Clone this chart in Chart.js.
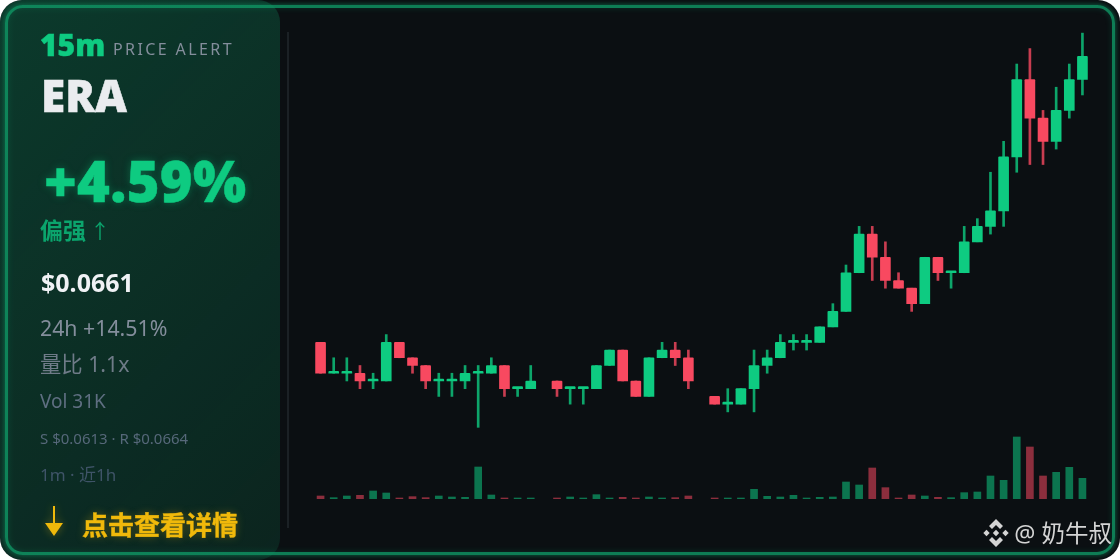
<!DOCTYPE html>
<html lang="zh">
<head>
<meta charset="utf-8">
<title>ERA 15m</title>
<script src="https://cdn.jsdelivr.net/npm/chart.js@4"></script>
<style>
    html, body { margin: 0; padding: 0; background: #fff; }
    #card {
        position: relative; width: 1120px; height: 560px; overflow: hidden;
        background: #0b0f12; border-radius: 22px;
        font-family: "Noto Sans", "Noto Sans CJK SC", sans-serif;
    }
    #frame {
        position: absolute; left: 5px; top: 5px; right: 5px; bottom: 5px;
        border: 3px solid #0e7d55; border-radius: 18px; box-sizing: border-box;
        box-shadow: 0 0 4px 1px rgba(14, 150, 100, .5), inset 0 0 6px rgba(16, 185, 129, .2);
    }
    #panel {
        position: absolute; left: 0; top: 0; width: 280px; height: 560px;
        border-radius: 22px;
        background: linear-gradient(135deg, rgba(14, 150, 100, .32), rgba(14, 150, 100, .16));
    }
    #divider { position: absolute; left: 287px; top: 32px; width: 2px; height: 496px; background: #1b2125; }
    #wrap { position: absolute; left: 313.5px; top: 24.5px; width: 775px; height: 474px; }
    .t { position: absolute; white-space: nowrap; line-height: 1; }
    #tf { left: 40px; top: 30px; font-size: 30px; font-weight: 900; color: #0ecb81; -webkit-text-stroke: .5px #0ecb81; }
    #alert { left: 113px; top: 41px; font-size: 16px; letter-spacing: 2.4px; color: #848e9c; }
    #sym { left: 41px; top: 73px; font-size: 44px; font-weight: 900; color: #eaecef; -webkit-text-stroke: .5px #eaecef; }
    #chg { left: 44px; top: 152px; font-size: 56px; font-weight: 900; color: #0ecb81; letter-spacing: .3px; -webkit-text-stroke: .5px #0ecb81; text-shadow: 0 0 8px rgba(14, 203, 129, .35); }
    #bias { left: 40px; top: 219px; font-size: 23px; font-weight: 700; color: #0ba56d; word-spacing: -2px; }
    #bias span { font-size: 20px; font-weight: 400; }
    #price { left: 41px; top: 270px; font-size: 25px; font-weight: 700; color: #f0f2f5; }
    #d24 { left: 40px; top: 317px; font-size: 21.3px; color: #848e9c; }
    #ratio { left: 40px; top: 353px; font-size: 21.3px; color: #6f7b88; }
    #vol { left: 40px; top: 392px; font-size: 19px; color: #5f6f82; }
    #sr { left: 40px; top: 431px; font-size: 15px; color: #56687a; }
    #span { left: 40px; top: 466px; font-size: 17px; color: #3f5468; }
    #cta { left: 82px; top: 512px; font-size: 26px; font-weight: 700; color: #f0b90b; -webkit-text-stroke: .4px #f0b90b; text-shadow: 0 0 8px rgba(240, 185, 11, .35); }
    #arrow { position: absolute; left: 44px; top: 505px; filter: drop-shadow(0 0 4px rgba(240, 185, 11, .35)); }
    #mark { right: 8px; top: 522px; font-size: 23.5px; color: #d4d4d4; }
    #logo { position: absolute; left: 982px; top: 519px; }
</style>
</head>
<body>
<div id="card">
    <div id="wrap"><canvas id="candleChart" width="775" height="474"></canvas></div>
    <div id="frame"></div>
    <div id="divider"></div>
    <div id="panel"></div>
    <div class="t" id="tf">15m</div>
    <div class="t" id="alert">PRICE ALERT</div>
    <div class="t" id="sym">ERA</div>
    <div class="t" id="chg">+4.59%</div>
    <div class="t" id="bias">偏强 <span>↑</span></div>
    <div class="t" id="price">$0.0661</div>
    <div class="t" id="d24">24h +14.51%</div>
    <div class="t" id="ratio">量比 1.1x</div>
    <div class="t" id="vol">Vol 31K</div>
    <div class="t" id="sr">S $0.0613 · R $0.0664</div>
    <div class="t" id="span">1m · 近1h</div>
    <svg id="arrow" width="20" height="32" viewBox="0 0 20 32">
        <path d="M9 1h2v17h8L10 31 1 18h8z" fill="#f0b90b"/>
    </svg>
    <div class="t" id="cta">点击查看详情</div>
    <svg id="logo" width="28" height="28" viewBox="0 0 28 28" fill="#d4d4d4">
        <path d="M14 0l7 7-3 3-4-4-4 4-3-3z"/>
        <path d="M14 28l-7-7 3-3 4 4 4-4 3 3z"/>
        <path d="M4.5 10.8L7.7 14l-3.2 3.2L1.3 14z"/>
        <path d="M23.5 10.8l3.2 3.2-3.2 3.2-3.2-3.2z"/>
        <path d="M14 10.8l3.2 3.2-3.2 3.2-3.2-3.2z"/>
    </svg>
    <div class="t" id="mark">@ 奶牛叔</div>
</div>

<script>
// bougies 15m, null = pas de donnée
const times = ['-58','-57','-56','-55','-54','-53','-52','-51','-50','-49','-48','-47','-46','-45','-44','-43','-42','-41','-40','-39','-38','-37','-36','-35','-34','-33','-32','-31','-30','-29','-28','-27','-26','-25','-24','-23','-22','-21','-20','-19','-18','-17','-16','-15','-14','-13','-12','-11','-10','-9','-8','-7','-6','-5','-4','-3','-2','-1','0'];
const opens = [.0624,.0620,.0620,.0620,.0619,.0619,.0624,.0622,.0621,.0619,.0619,.0619,.0620,.0620,.0621,.0618,.0618,null,.0619,.0618,.0618,.0618,.0621,.0623,.0619,.0617,.0622,.0623,.0622,null,.0617,.0616,.0616,.0618,.0621,.0622,.0624,.0624,.0624,.0626,.0628,.0633,.0638,.0635,.0632,.0631,.0629,.0635,.0633,.0633,.0637,.0639,.0641,.0648,.0658,.0653,.0650,.0654,.0658];
const highs = [.0624,.0622,.0622,.0621,.0620,.0625,.0624,.0622,.0621,.0620,.0620,.0621,.0621,.0622,.0621,.0618,.0621,null,.0619,.0618,.0618,.0621,.0623,.0623,.0619,.0622,.0624,.0624,.0623,null,.0617,.0618,.0618,.0623,.0623,.0625,.0625,.0625,.0626,.0629,.0634,.0639,.0639,.0637,.0633,.0631,.0635,.0635,.0633,.0639,.0640,.0646,.0650,.0660,.0662,.0654,.0657,.0660,.0664];
const lows = [.0620,.0620,.0619,.0618,.0618,.0619,.0622,.0620,.0618,.0617,.0617,.0618,.0613,.0620,.0617,.0617,.0618,null,.0617,.0616,.0616,.0618,.0621,.0619,.0617,.0617,.0622,.0621,.0618,null,.0616,.0615,.0616,.0615,.0620,.0622,.0623,.0623,.0624,.0626,.0628,.0633,.0632,.0631,.0631,.0628,.0629,.0632,.0631,.0633,.0637,.0638,.0639,.0646,.0647,.0647,.0649,.0653,.0656];
const closes = [.0620,.0620,.0620,.0619,.0619,.0624,.0622,.0621,.0619,.0619,.0619,.0620,.0620,.0621,.0618,.0618,.0619,null,.0618,.0618,.0618,.0621,.0623,.0619,.0617,.0622,.0623,.0622,.0619,null,.0616,.0616,.0618,.0621,.0622,.0624,.0624,.0624,.0626,.0628,.0633,.0638,.0635,.0632,.0631,.0629,.0635,.0633,.0633,.0637,.0639,.0641,.0648,.0658,.0653,.0650,.0654,.0658,.0661];
// volume en milliers
const volumes = [4.5,2,4.5,5.5,12,9,1.5,3.5,2,4.5,3,2.5,48,6,1.5,1.5,1.5,null,1.5,3,1.5,6.5,1.5,2.5,1.5,3,1.5,2,4.5,null,1.5,1.5,1.5,14.5,4,3,5.5,1.5,2.5,3,25.5,21,46.5,17,1.5,6,4.5,2.5,2,9.5,10.5,34.5,28,93,78,34.5,40,47.5,31];

const green = '#0ecb81';
const red = '#f84960';

// une bougie est haussière si close >= open
const colors = opens.map((o, i) => closes[i] >= o ? green : red);
const volColors = opens.map((o, i) => closes[i] >= o ? 'rgba(14,203,129,.55)' : 'rgba(248,73,96,.55)');

const ctx = document.getElementById('candleChart').getContext('2d');
const candleChart = new Chart(ctx, {
    type: 'bar',
    data: {
        labels: times,
        datasets: [{
            label: 'wick',
            yAxisID: 'price',
            data: lows.map((l, i) => l === null ? null : [l, highs[i]]),
            backgroundColor: colors.map(c => c + 'cc'),
            barThickness: 2,
            grouped: false,
            order: 2,
        }, {
            label: 'body',
            yAxisID: 'price',
            data: opens.map((o, i) => o === null ? null : [o, closes[i]]),
            backgroundColor: colors,
            borderRadius: 1,
            barThickness: 10,
            minBarLength: 2,
            grouped: false,
            order: 1,
        }, {
            label: 'volume',
            yAxisID: 'vol',
            data: volumes,
            backgroundColor: volColors,
            barThickness: 7,
            grouped: false,
            order: 3,
        }]
    },
    options: {
        responsive: false,
        animation: false,
        plugins: {
            legend: { display: false },
            title: { display: false },
            tooltip: { enabled: false },
        },
        scales: {
            x: { display: false, grid: { display: false } },
            price: { display: false, min: 0.060373, max: 0.066505, grid: { display: false } },
            vol: { display: false, min: 0, max: 711, grid: { display: false } },
        }
    }
});
</script>
</body>
</html>
